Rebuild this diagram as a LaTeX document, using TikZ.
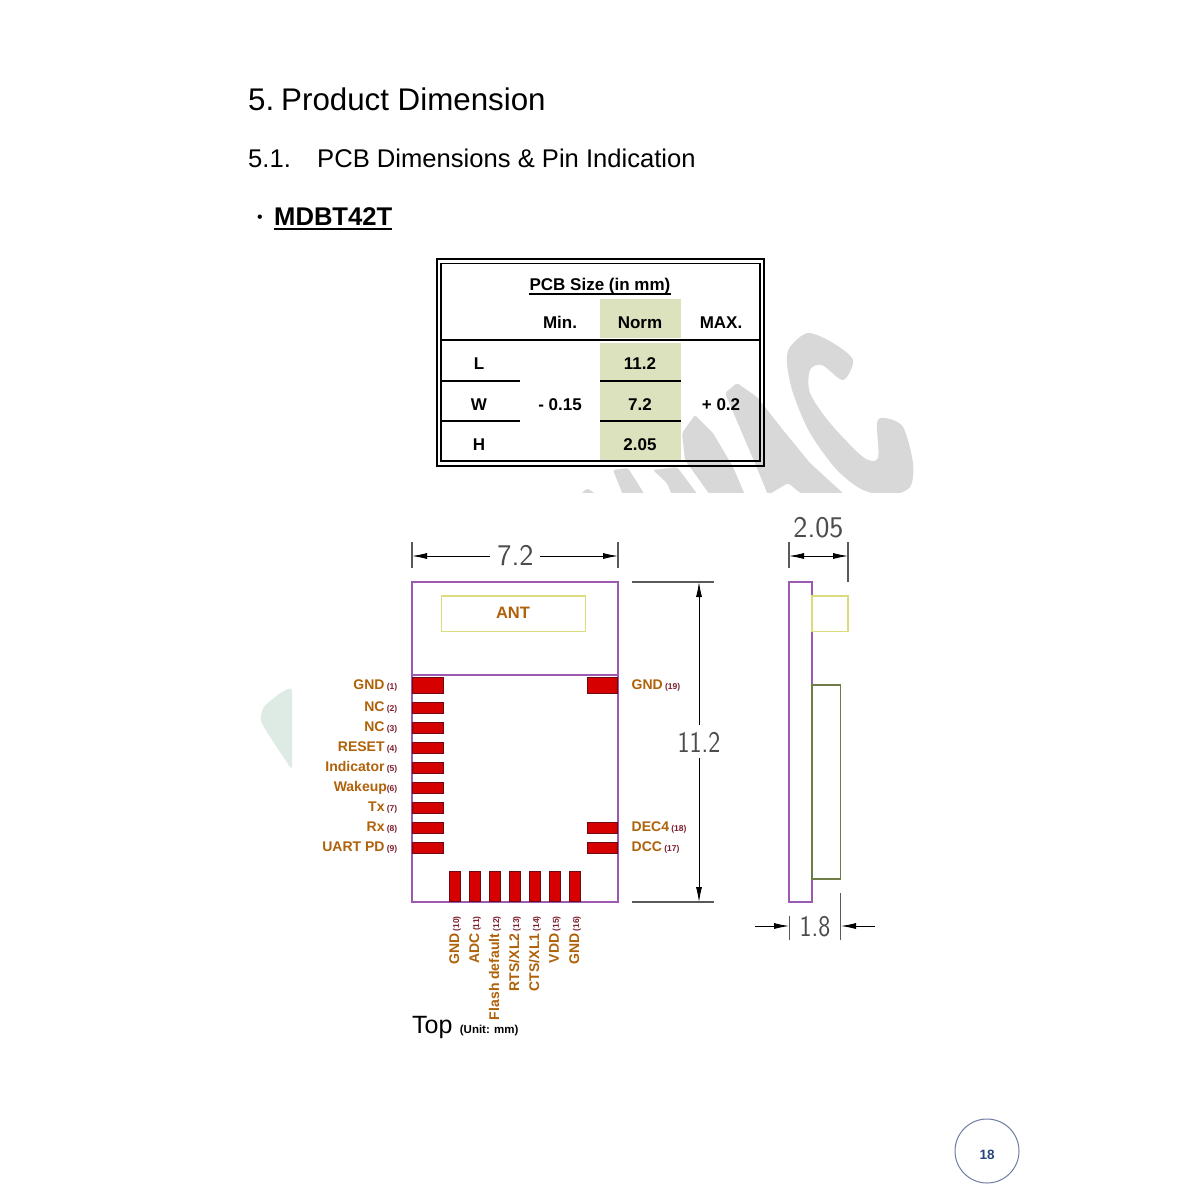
\documentclass[tikz,border=0pt]{standalone}
\usepackage{fontspec}
\setmainfont{Liberation Sans}
\usetikzlibrary{arrows.meta}
\definecolor{pinred}{RGB}{215,0,0}
\definecolor{pinedge}{RGB}{110,10,20}
\definecolor{pinbrown}{RGB}{176,98,10}
\definecolor{numred}{RGB}{125,30,45}
\definecolor{pcbpurple}{RGB}{155,90,175}
\definecolor{antyellow}{RGB}{220,220,125}
\definecolor{canolive}{RGB}{110,125,70}
\definecolor{normgreen}{RGB}{220,225,190}
\definecolor{markgray}{RGB}{216,216,216}
\definecolor{markgreen}{RGB}{222,234,228}
\definecolor{ringblue}{RGB}{110,125,160}
\definecolor{pageblue}{RGB}{40,70,125}
\tikzset{
  x=1pt,y=-1pt,
  pin/.style={fill=pinred,draw=pinedge,line width=0.9pt},
  pinname/.style={font=\fontsize{14}{16}\selectfont\bfseries,text=pinbrown,inner sep=0pt},
  cell/.style={font=\fontsize{17}{19}\selectfont\bfseries,inner sep=0pt},
  dimtext/.style={font=\sffamily\fontsize{30}{32}\selectfont,text=black!70,inner sep=0pt},
  dimnarrow/.style={dimtext,xscale=.85,transform shape},
  dimline/.style={black,line width=0.8pt,{Latex[length=15pt,width=6pt]}-{Latex[length=15pt,width=6pt]}},
  arrowline/.style={black,line width=0.8pt,-{Latex[length=15pt,width=6pt]}},
  extline/.style={black!65,line width=1.3pt},
  outline/.style={line width=1.5pt},
  boardline/.style={line width=1.25pt},
}
\newcommand{\pinnum}[1]{{\fontsize{8.5}{9}\selectfont\color{numred}(#1)}}
\begin{document}
\begin{tikzpicture}
\useasboundingbox (0,0) rectangle (1200,1200);
\fill[white] (0,0) rectangle (1200,1200);
% watermark
\begin{scope}
\clip (570,320) rectangle (940,492);
\fill[markgray] plot[smooth cycle,tension=.5] coordinates {(790,347) (808,333) (833,343) (853,360) (843,380) (822,365) (810,370) (810,393) (830,423) (863,457) (878,458) (877,423) (885,418) (903,427) (913,463) (910,487) (890,495) (863,490) (837,470) (810,433) (793,393) (787,363)};
\fill[markgray,rounded corners=2pt] (725,393) -- (737,383) -- (757,397) -- (783,430) -- (810,463) -- (845,495) -- (803,495) -- (788,483) -- (768,495) -- (757,468) -- cycle;
\fill[markgray,rounded corners=2pt] (682,433) -- (695,415) -- (713,433) -- (733,467) -- (745,495) -- (710,495) -- (685,460) -- cycle;
\fill[markgray,rounded corners=2pt] (653,470) -- (677,467) -- (698,495) -- (672,495) -- (667,483) -- cycle;
\fill[markgray,rounded corners=2pt] (613,470) -- (628,468) -- (645,495) -- (623,495) -- cycle;
\fill[markgray,rounded corners=2pt] (580,495) -- (587,488) -- (597,495) -- cycle;
\end{scope}
\fill[markgreen,rounded corners=4pt] (292,687) -- (280,693) -- (263,707) -- (260,720) -- (270,737) -- (292,770) -- cycle;
% heading
\node[anchor=base west,font=\fontsize{31.3}{34}\selectfont,inner sep=0pt] (titlenum) at (248,110.5) {5.};
\node[anchor=base west,font=\fontsize{31.3}{34}\selectfont,inner sep=0pt] (title) at (281,110.5) {Product Dimension};
\node[anchor=base west,font=\fontsize{25.6}{28}\selectfont,inner sep=0pt] (subnum) at (248,167.5) {5.1.};
\node[anchor=base west,font=\fontsize{25.6}{28}\selectfont,inner sep=0pt] (subtitle) at (317,167.5) {PCB Dimensions \& Pin Indication};
\node[anchor=base west,font=\fontsize{16}{18}\selectfont,inner sep=0pt] (bullet) at (257,222) {•};
\node[anchor=base west,font=\fontsize{25.6}{28}\selectfont\bfseries,inner sep=0pt] (model) at (274,225) {MDBT42T};
\draw[line width=1.4pt] (274,229) -- (392,229);
% table
\fill[normgreen] (600,299) rectangle (681,461);
\fill[white] (600,337.5) rectangle (681,342.5);
\draw[line width=2.2pt] (437,259) rectangle (764,466);
\draw[outline] (441,263.5) rectangle (760,461);
\draw[outline] (441,340) -- (760,340);
\draw[outline] (441,381) -- (520,381) (600,381) -- (681,381);
\draw[outline] (441,421) -- (520,421) (600,421) -- (681,421);
\node[cell] (tabhead) at (600,286) {PCB Size (in mm)};
\draw[line width=1.1pt] (529,294) -- (671,294);
\node[cell] (hmin) at (560,322.5) {Min.};
\node[cell] (hnorm) at (640,322.5) {Norm};
\node[cell] (hmax) at (721,322.5) {MAX.};
\node[cell] (rl) at (479,364) {L};
\node[cell] (rw) at (479,404.5) {W};
\node[cell] (rh) at (479,444.5) {H};
\node[cell] (vl) at (640,364) {11.2};
\node[cell] (vw) at (640,404.5) {7.2};
\node[cell] (vh) at (640,444.5) {2.05};
\node[cell] (tolmin) at (560,404.5) {- 0.15};
\node[cell] (tolmax) at (721,404.5) {+ 0.2};
% top view
\draw[pcbpurple,boardline] (412,582) rectangle (618,902);
\draw[pcbpurple,boardline] (412,675) -- (618,675);
\draw[antyellow,boardline] (441.5,596) rectangle (585.5,631.5);
\node[font=\fontsize{16.5}{18}\selectfont\bfseries,text=pinbrown,inner sep=0pt] (ant) at (513,612.5) {ANT};
\draw[pin] (412.5,677) rectangle (443,693);
\draw[pin] (587,677) rectangle (617.5,693);
\foreach \y/\name/\num in {707.5/NC/2,727.5/NC/3,747.5/RESET/4,767.5/Indicator/5,787.5/Wakeup/6,807.5/Tx/7,827.5/Rx/8,847.5/UART PD/9}{
  \draw[pin] (412.5,\y-5.5) rectangle (443,\y+5.5);
  \node[pinname,anchor=east] at (397.5,\y) {\name\ifnum\num=6\else\,\fi\pinnum{\num}};
}
\node[pinname,anchor=east] (p1) at (397.5,685.5) {GND\,\pinnum{1}};
\node[pinname,anchor=west] (p19) at (631.5,685) {GND\,\pinnum{19}};
\draw[pin] (587,822) rectangle (617.5,833);
\draw[pin] (587,842) rectangle (617.5,853);
\node[pinname,anchor=west] (p18) at (631.5,827.5) {DEC4\,\pinnum{18}};
\node[pinname,anchor=west] (p17) at (631.5,847.5) {DCC\,\pinnum{17}};
\foreach \x in {455,475,495,515,535,555,575}{
  \draw[pin] (\x-5.5,871) rectangle (\x+5.5,901.5);
}
\node[pinname,rotate=90,anchor=east] (p10) at (455,916) {GND\,\pinnum{10}};
\node[pinname,rotate=90,anchor=east] (p11) at (475,916) {ADC\,\pinnum{11}};
\node[pinname,rotate=90,anchor=east] (p12) at (495,916) {Flash default\,\pinnum{12}};
\node[pinname,rotate=90,anchor=east] (p13) at (515,916) {RTS/XL2\,\pinnum{13}};
\node[pinname,rotate=90,anchor=east] (p14) at (535,916) {CTS/XL1\,\pinnum{14}};
\node[pinname,rotate=90,anchor=east] (p15) at (555,916) {VDD\,\pinnum{15}};
\node[pinname,rotate=90,anchor=east] (p16) at (575,916) {GND\,\pinnum{16}};
\node[anchor=base west,inner sep=0pt] (toplabel) at (412,1033) {\fontsize{25}{27}\selectfont Top\,{\fontsize{11.5}{13}\selectfont\bfseries\ (Unit: mm)}};
% width dimension
\coordinate (wl) at (412,556);
\coordinate (wr) at (618,556);
\node[dimtext] (wtext) at (515.5,556) {7.2};
\draw[arrowline] (490,556) -- (wl);
\draw[arrowline] (540,556) -- (wr);
\draw[extline] (412,542) -- (412,568);
\draw[extline] (618,542) -- (618,568);
% length dimension
\draw[extline] (632,582) -- (714,582);
\draw[extline] (632,902) -- (714,902);
\coordinate (lt) at (699,582);
\coordinate (lb) at (699,902);
\node[dimnarrow] (ltext) at (699,742) {11.2};
\draw[arrowline] (699,725) -- (lt);
\draw[arrowline] (699,758) -- (lb);
% side view
\draw[pcbpurple,boardline] (789,582) rectangle (812,902);
\draw[antyellow,boardline] (812,596) rectangle (848,631.5);
\draw[canolive,boardline] (812,685) rectangle (840.5,879);
\node[dimtext] (htext) at (818.5,528) {2.05};
\coordinate (hl) at (789,556);
\coordinate (hr) at (848,556);
\draw[dimline] (hl) -- (hr);
\draw[extline] (789,542) -- (789,568);
\draw[extline] (848,542) -- (848,582);
\node[dimnarrow] (ctext) at (815,927) {1.8};
\coordinate (cl) at (789,926);
\coordinate (cr) at (841,926);
\coordinate (clo) at (755,926);
\coordinate (cro) at (875,926);
\draw[arrowline] (clo) -- (cl);
\draw[arrowline] (cro) -- (cr);
\draw[extline] (789.5,916) -- (789.5,940);
\draw[extline] (840.5,893) -- (840.5,940);
% page number
\node[circle,draw=ringblue,line width=1pt,minimum size=64pt,inner sep=0pt] (pagering) at (987,1151) {};
\node[font=\fontsize{13.5}{15}\selectfont\bfseries,text=pageblue,inner sep=0pt] (pagenum) at (987,1155) {18};
\end{tikzpicture}
\end{document}
